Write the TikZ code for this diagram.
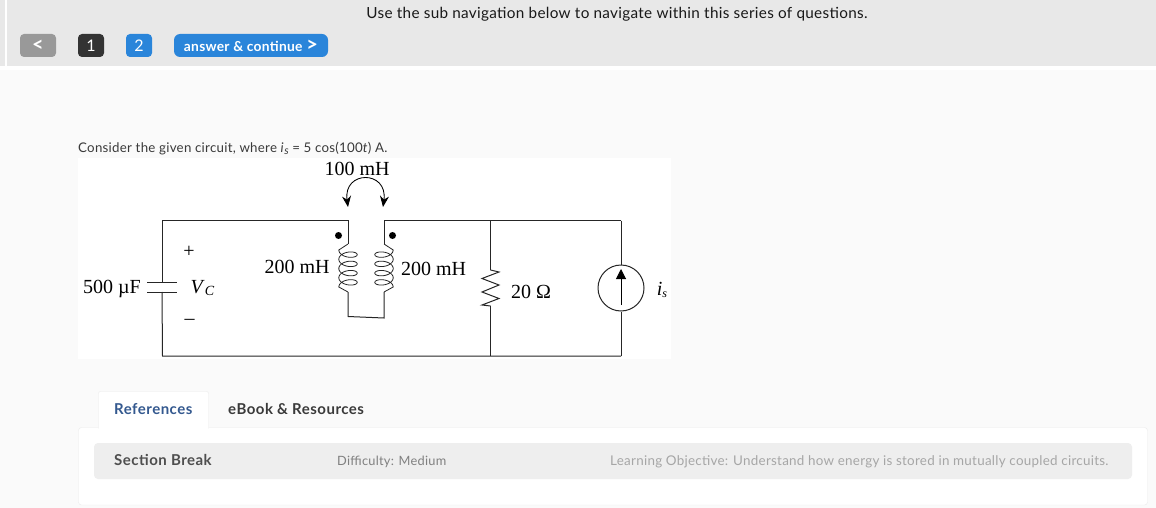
\documentclass[tikz,border=0pt]{standalone}
\usepackage{fontspec}
\setmainfont{Lato}
\newfontfamily\uir[LetterSpace=2]{Lato}
\newfontfamily\uib[LetterSpace=3.3]{Lato}
\newfontfamily\serifc{Liberation Serif}
\usetikzlibrary{arrows.meta}
\definecolor{barbg}{HTML}{E8E8E8}
\definecolor{pagebg}{HTML}{FAFAFA}
\definecolor{blueb}{HTML}{2A85DA}
\definecolor{darkb}{HTML}{333333}
\definecolor{greyb}{HTML}{999999}
\definecolor{band}{HTML}{EEEEEE}
\definecolor{edge}{HTML}{EBEBEB}
\definecolor{reflink}{HTML}{34598F}
\definecolor{txt}{HTML}{3A3A3A}
\tikzset{
  x=1pt,y=-1pt,
  btn/.style={rounded corners=4pt,minimum height=23pt,inner sep=0pt,text=white,font=\fontsize{13.8}{14}\selectfont\uir\bfseries},
  ui/.style={inner sep=0pt,anchor=base west},
  lab/.style={inner sep=0pt,font=\fontsize{20}{20}\selectfont\serifc,text=black},
  wire/.style={draw=black!85,line width=1pt},
  coilw/.style={draw=black!85,line width=0.8pt},
  dotc/.style={circle,fill=black,inner sep=0pt,minimum size=7pt},
  plate/.style={draw=black!85,line width=1pt},
  tabb/.style={ui,font=\fontsize{15}{15}\selectfont\uib\bfseries},
}
\begin{document}
\begin{tikzpicture}
\useasboundingbox (0,0) rectangle (1156,508);
\fill[white] (0,0) rectangle (1156,508);
\fill[pagebg] (0,70) rectangle (1156,508);
\fill[barbg] (7,0) rectangle (1156,66);
\fill[barbg] (0,0) rectangle (5,66);
% nav
\node[btn,fill=greyb,minimum width=36pt] (back) at (38,45.5) {\fontsize{20}{20}\selectfont <};
\node[btn,fill=darkb,minimum width=26pt] (one) at (91,45.5) {\fontsize{16}{16}\selectfont\mdseries 1};
\node[btn,fill=blueb,minimum width=26pt] (two) at (139,45.5) {\fontsize{16}{16}\selectfont\mdseries 2};
\node[btn,fill=blueb,minimum width=154pt,rounded corners=6pt] (cont) at (251,45.5) {answer \& continue\hspace{4pt}{\fontsize{20}{20}\selectfont >}};
\node[inner sep=0pt,font=\fontsize{15.3}{15}\selectfont\uir,text=black!90] (subnav) at (617,14.5) {Use the sub navigation below to navigate within this series of questions.};
\node[ui,font=\fontsize{13.3}{14}\selectfont\uir,text=txt] (intro) at (78,152) {Consider the given circuit, where \textit{i\kern0.5pt\raisebox{-2pt}{\fontsize{11}{11}\selectfont s}} = 5 cos(100\textit{t}) A.};
% image
\node[fill=white,minimum width=593pt,minimum height=201pt,inner sep=0pt] (img) at (374.5,258.5) {};
% key points
\coordinate (tl) at (162,220.5); \coordinate (tr) at (621,220.5);
\coordinate (bl) at (162.5,356); \coordinate (br) at (621,356);
\coordinate (lt) at (348,220.5); \coordinate (rt) at (384,220.5);
\coordinate (rtop) at (490.5,220.5); \coordinate (rbot) at (490.5,356);
\coordinate (rs) at (490.5,270); \coordinate (re) at (490.5,306);
\coordinate (cpa) at (162,282); \coordinate (cpb) at (162,292);
\coordinate (lc1) at (348,244); \coordinate (lc2) at (348,292);
\coordinate (rc1) at (384,244); \coordinate (rc2) at (384,292);
\coordinate (lb) at (348,316.5); \coordinate (rb) at (384,318);
\coordinate (ma) at (348,207); \coordinate (mb) at (383,207);
% wires
\draw[wire] (cpa) -- (tl) -- (lt) -- (lc1);
\draw[wire] (lc2) -- (lb) -- (rb) -- (rc2);
\draw[wire] (rc1) -- (rt) -- (tr);
\draw[wire] (cpb) -- (bl) -- (br);
\draw[wire] (rtop) -- (rs);
\draw[wire] (re) -- (rbot);
\draw[wire] (rs) -- (499,272) -- (482,278.5) -- (499,285) -- (482,292) -- (499,298.5) -- (482,305) -- (re);
% capacitor
\draw[plate] (147,282) -- (177,282);
\draw[plate] (147,292) -- (177,292);
% coils
\draw[coilw,smooth,samples=120,domain=0:1440,variable=\t] (lc1) -- plot ({348-9.2*cos(\t)},{250+\t/1440*37+4.8*sin(\t)}) -- (lc2);
\draw[coilw,smooth,samples=120,domain=0:1440,variable=\t] (rc1) -- plot ({384+9.2*cos(\t)},{250+\t/1440*37+4.8*sin(\t)}) -- (rc2);
\node[dotc] (dl) at (338.5,235.5) {};
\node[dotc] (dr) at (392.5,235.5) {};
% mutual arrow
\draw[draw=black,line width=0.85pt,{Stealth[length=11pt,width=9pt]}-{Stealth[length=11pt,width=9pt]}] (ma) .. controls (343,170) and (388,170) .. (mb);
% source
\node[circle,draw=black!85,line width=1pt,fill=white,minimum size=46pt,inner sep=0pt] (src) at (621,288) {};
\draw[wire] (tr) -- (src.north);
\draw[wire] (src.south) -- (br);
\coordinate (sa) at (621,305); \coordinate (sb) at (621,269);
\draw[line width=1pt,draw=black,-{Triangle[length=10pt,width=10pt]}] (sa) -- (sb);
% labels
\node[lab] (m100) at (357,169) {100 mH};
\node[lab] (l1) at (297,267) {200 mH};
\node[lab] (l2) at (433.5,268.5) {200 mH};
\node[lab,anchor=east] (c) at (141,289) {500 µF};
\node[lab] (plus) at (189,252) {+};
\node[lab] (minus) at (189.5,322) {–};
\node[lab] (vc) at (202.5,288) {\textit{V}\raisebox{-2pt}{\fontsize{14}{14}\selectfont\textit{C}}};
\node[lab] (r) at (531,292) {20 Ω};
\node[lab] (is) at (662,290) {\textit{i}\raisebox{-2pt}{\fontsize{12}{12}\selectfont\textit{s}}};
% lower card
\draw[edge,fill=white,rounded corners=3pt] (78.5,427.5) rectangle (1147.5,505);
\path[draw=edge,fill=white,rounded corners=2pt] (98.5,428.5) -- (98.5,391.5) -- (208.5,391.5) -- (208.5,428.5);
\fill[white] (99,426) rectangle (208,429);
\node[tabb,text=reflink] (t1) at (114,414.5) {References};
\node[tabb,text=txt] (t2) at (228,414.5) {eBook \& Resources};
\fill[band,rounded corners=4pt] (94,443) rectangle (1132,479);
\node[tabb,text=txt!90] (t3) at (114,465.5) {Section Break};
\node[ui,font=\fontsize{12.8}{14}\selectfont\uir,text=black!50] (t4) at (337,465) {Difficulty: Medium};
\node[ui,font=\fontsize{13.4}{14}\selectfont\uir,text=black!35] (t5) at (610,465) {Learning Objective: Understand how energy is stored in mutually coupled circuits.};
\end{tikzpicture}
\end{document}
